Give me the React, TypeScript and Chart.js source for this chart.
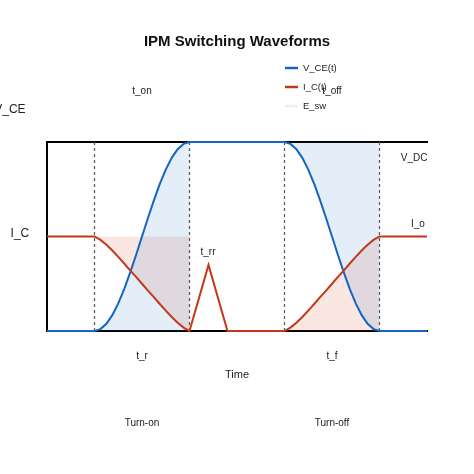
import { useEffect, useRef } from "react"
import { Chart, registerables } from "chart.js"

Chart.register(...registerables)

// time samples (normalised units)
const turnOnTimes = [1, 1.125, 1.25, 1.375, 1.5, 1.625, 1.75, 1.875, 2, 2.125, 2.25, 2.375, 2.5, 2.625, 2.75, 2.875, 3]
const turnOffTimes = [5, 5.125, 5.25, 5.375, 5.5, 5.625, 5.75, 5.875, 6, 6.125, 6.25, 6.375, 6.5, 6.625, 6.75, 6.875, 7]
const recoveryTimes = [3.4, 3.8]
const switchTimes = [1, 3, 5, 7]

// V_CE during the transitions
const vceRise = [0, 0.01, 0.038, 0.084, 0.146, 0.222, 0.309, 0.402, 0.5, 0.598, 0.691, 0.778, 0.854, 0.916, 0.962, 0.99, 1]
const vceFall = [1, 0.99, 0.962, 0.916, 0.854, 0.778, 0.691, 0.598, 0.5, 0.402, 0.309, 0.222, 0.146, 0.084, 0.038, 0.01, 0]

// I_C during the transitions
const icFall = [0.5, 0.482, 0.456, 0.426, 0.392, 0.357, 0.321, 0.286, 0.25, 0.214, 0.179, 0.143, 0.108, 0.074, 0.044, 0.018, 0]
const icRise = [0, 0.018, 0.044, 0.074, 0.108, 0.143, 0.179, 0.214, 0.25, 0.286, 0.321, 0.357, 0.392, 0.426, 0.456, 0.482, 0.5]
const icRecovery = [0.35, 0]

const vceLevels = { start: 0, end: 0, dc: 1 }
const icLevels = { load: 0.5 }

const BLUE = "#1565C0"
const RED = "#C2391A"
const BLUE_FILL = "rgba(30, 115, 200, 0.12)"
const RED_FILL = "rgba(220, 70, 30, 0.13)"
const FONT = "'Liberation Sans', Arial, sans-serif"

const zip = (xs: number[], ys: number[]) => xs.map((x, i) => ({ x, y: ys[i] }))

const textPlugin = {
  id: "waveText",
  afterDraw(chart: Chart) {
    const { ctx } = chart
    const sx = chart.scales.x
    const sy = chart.scales.y
    ctx.save()
    ctx.textAlign = "center"
    ctx.textBaseline = "middle"

    // title
    ctx.fillStyle = "#111"
    ctx.font = `bold 15px ${FONT}`
    ctx.fillText("IPM Switching Waveforms", 237, 42)

    // legend
    const legend = [
      { label: "V_CE(t)", color: BLUE },
      { label: "I_C(t)", color: RED },
      { label: "E_sw", color: "rgba(30, 115, 200, 0.1)" },
    ]
    ctx.font = `9.5px ${FONT}`
    legend.forEach((item, i) => {
      const yy = 68 + i * 19
      ctx.strokeStyle = item.color
      ctx.lineWidth = 2.5
      ctx.beginPath()
      ctx.moveTo(285, yy)
      ctx.lineTo(298, yy)
      ctx.stroke()
      ctx.fillStyle = "#222"
      ctx.textAlign = "left"
      ctx.fillText(item.label, 303, yy)
    })

    // annotations in data coordinates
    const notes: [string, number, number, number][] = [
      ["t_on", 2, 1.27, 10],
      ["t_off", 6, 1.27, 10],
      ["t_r", 2, -0.135, 10],
      ["t_f", 6, -0.135, 10],
      ["t_rr", 3.39, 0.415, 10],
      ["V_DC", 7.73, 0.915, 10],
      ["I_o", 7.81, 0.565, 10],
      ["V_CE", -0.78, 1.17, 12],
      ["I_C", -0.57, 0.515, 12],
    ]
    ctx.textAlign = "center"
    ctx.fillStyle = "#222"
    notes.forEach(([t, x, y, size]) => {
      ctx.font = `${size}px ${FONT}`
      ctx.fillText(t, sx.getPixelForValue(x), sy.getPixelForValue(y))
    })

    // axis title and phase labels
    ctx.font = `11px ${FONT}`
    ctx.fillText("Time", sx.getPixelForValue(4), 375)
    ctx.font = `10px ${FONT}`
    ctx.fillText("Turn-on", sx.getPixelForValue(2), 423)
    ctx.fillText("Turn-off", sx.getPixelForValue(6), 423)
    ctx.restore()
  },
}

export default function App() {
  const chartRef = useRef<HTMLCanvasElement>(null)
  const chartInstance = useRef<Chart | null>(null)

  useEffect(() => {
    document.body.style.margin = "0"
    if (!chartRef.current) return
    const ctx = chartRef.current.getContext("2d")
    if (!ctx) return
    if (chartInstance.current) chartInstance.current.destroy()

    const times = [0, ...turnOnTimes, ...recoveryTimes, ...turnOffTimes, 8]
    const vce = [vceLevels.start, ...vceRise, vceLevels.dc, vceLevels.dc, ...vceFall, vceLevels.end]
    const ic = [icLevels.load, ...icFall, ...icRecovery, ...icRise, icLevels.load]

    const fillSet = (data: { x: number; y: number }[], color: string, value: number) => ({
      data,
      borderWidth: 0,
      pointRadius: 0,
      backgroundColor: color,
      fill: { value },
      order: 3,
    })

    const guideSets = switchTimes.map((t) => ({
      data: [
        { x: t, y: 0 },
        { x: t, y: 1 },
      ],
      borderColor: "#555",
      borderWidth: 1.2,
      borderDash: [3, 3],
      pointRadius: 0,
      fill: false,
      order: 2,
    }))

    chartInstance.current = new Chart(ctx, {
      type: "line",
      data: {
        datasets: [
          {
            label: "V_CE(t)",
            data: zip(times, vce),
            borderColor: BLUE,
            borderWidth: 2,
            pointRadius: 0,
            fill: false,
            clip: false,
            order: 1,
          },
          {
            label: "I_C(t)",
            data: zip(times, ic),
            borderColor: RED,
            borderWidth: 2,
            pointRadius: 0,
            fill: false,
            clip: false,
            order: 0,
          },
          fillSet(zip(turnOnTimes, vceRise), BLUE_FILL, 0),
          fillSet(zip(turnOnTimes, icFall), RED_FILL, icLevels.load),
          fillSet(zip(turnOffTimes, vceFall), BLUE_FILL, 1),
          fillSet(zip(turnOffTimes, icRise), RED_FILL, 0),
          ...guideSets,
        ] as any,
      },
      options: {
        animation: false,
        responsive: true,
        maintainAspectRatio: false,
        layout: { padding: { left: 47, right: 47, top: 142, bottom: 143 } },
        plugins: {
          legend: { display: false },
          title: { display: false },
          tooltip: { enabled: false },
        },
        scales: {
          x: {
            type: "linear",
            min: 0,
            max: 8,
            ticks: { display: false },
            grid: { display: false, drawTicks: false },
            border: { display: true, color: "#000", width: 2 },
            afterFit: (s: any) => {
              s.height = 0
            },
          },
          xTop: {
            type: "linear",
            position: "top",
            min: 0,
            max: 8,
            ticks: { display: false },
            grid: { display: false, drawTicks: false },
            border: { display: true, color: "#000", width: 2 },
            afterFit: (s: any) => {
              s.height = 0
            },
          },
          y: {
            min: 0,
            max: 1,
            ticks: { display: false },
            grid: { display: false, drawTicks: false },
            border: { display: true, color: "#000", width: 2 },
            afterFit: (s: any) => {
              s.width = 0
            },
          },
        },
      },
      plugins: [textPlugin],
    })

    return () => {
      if (chartInstance.current) {
        chartInstance.current.destroy()
        chartInstance.current = null
      }
    }
  }, [])

  return (
    <div style={{ width: 474, height: 474, background: "#fff" }}>
      <canvas ref={chartRef} />
    </div>
  )
}
